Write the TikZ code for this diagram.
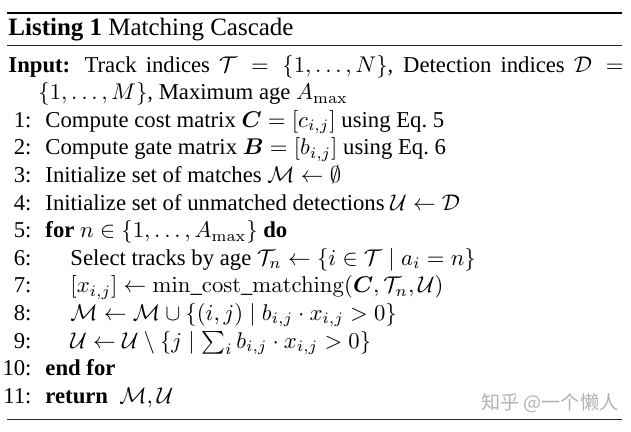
\documentclass[tikz,border=0pt]{standalone}
\usepackage{amsmath,amssymb}
\usepackage{bm}
\usepackage[no-math]{fontspec}
\setmainfont{Liberation Serif}
\newfontfamily\cjk{Noto Sans CJK SC}
\begin{document}
\begin{tikzpicture}[x=0.4405pt,y=-0.4405pt,
  lnum/.style={anchor=base east,inner sep=0pt},
  ltext/.style={anchor=base west,inner sep=0pt},
  rulethick/.style={line width=0.8pt,black},
  rulethin/.style={line width=0.45pt,black!85}]
\useasboundingbox (0,0) rectangle (631,431);
\fontsize{10pt}{12pt}\selectfont
% rules
\coordinate (t1) at (7,12.7); \coordinate (t2) at (622,12.7);
\coordinate (m1) at (7,45.5); \coordinate (m2) at (622,45.5);
\coordinate (b1) at (7,419.3); \coordinate (b2) at (622,419.3);
\draw[rulethick] (t1) -- (t2);
\draw[rulethin] (m1) -- (m2);
\draw[rulethin] (b1) -- (b2);
% caption
\node[ltext] (cap) at (8,35) {\fontsize{11pt}{13pt}\selectfont\textbf{Listing 1} Matching Cascade};
% input
\node[ltext] (inp) at (8,72.7) {\parbox[t]{270.9pt}{\hangindent=13.2pt\hangafter=1
  \textbf{Input:} Track indices $\mathcal{T} = \{1,\dots,N\}$, Detection indices $\mathcal{D} =$\linebreak
  $\{1,\dots,M\}$, Maximum age $A_{\max}$}};
% numbers
\foreach \k in {1,...,11}{
  \node[lnum] (n\k) at (32,{127.3+(\k-1)*27.6}) {\k:};
}
\node[ltext] (l1) at (45,127.3) {Compute cost matrix $\bm{C} = [c_{i,j}]$ using Eq.~5};
\node[ltext] (l2) at (45,154.9) {Compute gate matrix $\bm{B} = [b_{i,j}]$ using Eq.~6};
\node[ltext] (l3) at (45,182.5) {Initialize set of matches $\mathcal{M} \leftarrow \emptyset$};
\node[ltext] (l4) at (45,210.1) {Initialize set of unmatched detections $\mathcal{U} \leftarrow \mathcal{D}$};
\node[ltext] (l5) at (45,237.7) {\textbf{for} $n \in \{1,\dots,A_{\max}\}$ \textbf{do}};
\node[ltext] (l6) at (70,265.3) {Select tracks by age $\mathcal{T}_n \leftarrow \{i \in \mathcal{T} \mid a_i = n\}$};
\node[ltext] (l7) at (70,292.9) {$[x_{i,j}] \leftarrow \mathrm{min\_cost\_matching}(\bm{C}, \mathcal{T}_n, \mathcal{U})$};
\node[ltext] (l8) at (70,320.5) {$\mathcal{M} \leftarrow \mathcal{M} \cup \{(i,j) \mid b_{i,j} \cdot x_{i,j} > 0\}$};
\node[ltext] (l9) at (70,348.1) {$\mathcal{U} \leftarrow \mathcal{U} \setminus \{j \mid \sum_i b_{i,j} \cdot x_{i,j} > 0\}$};
\node[ltext] (l10) at (45,375.7) {\textbf{end for}};
\node[ltext] (l11) at (45,403.3) {\textbf{return}\ \ $\mathcal{M}, \mathcal{U}$};
% watermark
\node[ltext,text=black!30] (wm) at (481,409) {\cjk\fontsize{8.4pt}{10pt}\selectfont 知乎 @一个懒人};
\end{tikzpicture}
\end{document}
